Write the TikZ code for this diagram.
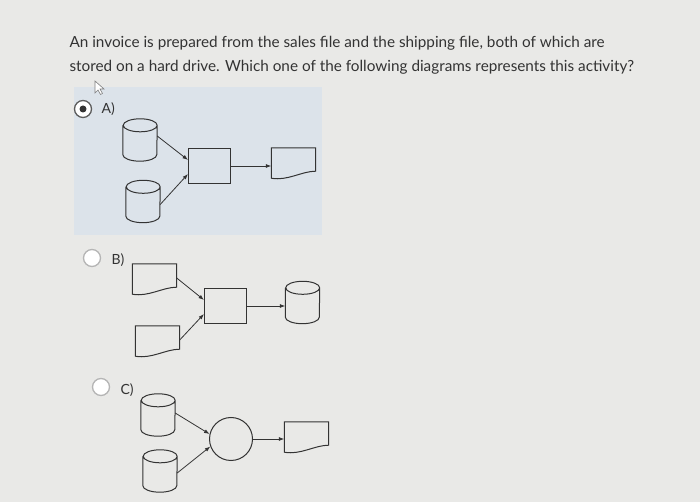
\documentclass[tikz,border=0pt]{standalone}
\usepackage{fontspec}
\setmainfont{Lato}
\usetikzlibrary{arrows.meta}
\definecolor{pagebg}{HTML}{E9E9E7}
\definecolor{pickbg}{HTML}{DCE3EA}
\definecolor{inkc}{HTML}{333333}
\definecolor{ringc}{HTML}{B5B5B5}

% outline of a disk file drawn round an empty node
\newcommand{\cyloutline}[1]{%
  \draw[shapeline] ([yshift=-6.5pt]#1.north west) -- ([yshift=6.5pt]#1.south west)
    arc[start angle=180,end angle=360,x radius=17pt,y radius=6.5pt]
    -- ([yshift=-6.5pt]#1.north east)
    arc[start angle=0,end angle=360,x radius=17pt,y radius=6.5pt];}
% outline of a document with a wavy bottom
\newcommand{\docoutline}[1]{%
  \draw[shapeline] (#1.north west) -- (#1.north east) -- ([yshift=7pt]#1.south east)
    .. controls ([xshift=-14pt,yshift=7pt]#1.south east) and ([xshift=16pt,yshift=-3pt]#1.south west) .. (#1.south west) -- cycle;}

\begin{document}
\begin{tikzpicture}
  [x=1pt,y=1pt,
   shapeline/.style={draw=inkc,line width=1pt},
   cylbox/.style={inner sep=0pt,minimum width=34pt,minimum height=42pt},
   docbox/.style={inner sep=0pt,minimum width=44pt,minimum height=30pt},
   procbox/.style={shapeline,inner sep=0pt,minimum width=42pt,minimum height=35pt},
   radiobtn/.style={circle,draw=ringc,line width=1.3pt,fill=white,minimum size=17pt,inner sep=0pt},
   flow/.style={draw=inkc,line width=0.8pt,-{Latex[length=5.5pt,width=4pt]}},
   every node/.append style={text=inkc}]
  \useasboundingbox (0,0) rectangle (700,502);
  \fill[pagebg] (0,0) rectangle (700,502);
  \fill[pickbg] (74,415) rectangle (322,267);

  % question
  \node[anchor=base west,font=\fontsize{15.3}{18}\selectfont] (qline1) at (66,454)
    {An invoice is prepared from the sales file and the shipping file, both of which are};
  \node[anchor=base west,font=\fontsize{15.3}{18}\selectfont] (qline2) at (66,430)
    {stored on a hard drive. Which one of the following diagrams represents this activity?};
  \draw[ringc!70!black,fill=white,line width=0.6pt] (95,421) -- ++(0,-12) -- ++(3,3)
    -- ++(2.5,-4.5) -- ++(2,1) -- ++(-2.5,4.5) -- ++(4,0) -- cycle;

  % option A
  \node[radiobtn,draw=inkc!80] (radioA) at (83,393) {};
  \node[circle,fill=inkc,minimum size=7pt,inner sep=0pt] (dotA) at (radioA) {};
  \node[anchor=west,font=\fontsize{14}{16}\selectfont] (labA) at (98,393) {A)};
  \node[cylbox] (cylA1) at (140,362) {};
  \node[cylbox] (cylA2) at (143,300.5) {};
  \node[procbox] (procA) at (209.5,336) {};
  \node[docbox] (docA) at (293.5,339) {};

  % option B
  \node[radiobtn] (radioB) at (92,244) {};
  \node[anchor=west,font=\fontsize{14}{16}\selectfont] (labB) at (108,242) {B)};
  \node[docbox] (docB1) at (154.5,223) {};
  \node[docbox] (docB2) at (157.5,161) {};
  \node[procbox] (procB) at (225.5,196) {};
  \node[cylbox] (cylB) at (302.5,199.5) {};

  % option C
  \node[radiobtn] (radioC) at (101,115) {};
  \node[anchor=west,font=\fontsize{14}{16}\selectfont] (labC) at (117,112) {C)};
  \node[cylbox] (cylC1) at (158,87) {};
  \node[cylbox] (cylC2) at (160,31) {};
  \node[shapeline,circle,minimum size=43pt,inner sep=0pt] (circC) at (231,63) {};
  \node[docbox] (docC) at (306.5,65) {};

  \foreach \n in {cylA1,cylA2,cylB,cylC1,cylC2}
    \cyloutline{\n};
  \foreach \n in {docA,docB1,docB2,docC}
    \docoutline{\n};

  \foreach \from/\fs/\to/\ts in {cylA1.east/4/procA.west/6,cylA2.east/-3/procA.west/-8,
      procA.east/0/docA.west/-3,docB1.east/1/procB.west/6,docB2.east/1/procB.west/-8,
      procB.east/0/cylB.west/-3.5,cylC1.east/2/circC.167/0,cylC2.east/-2/circC.200/0,
      circC.east/0/docC.west/-2}
    \draw[flow] ([yshift=\fs pt]\from) -- ([yshift=\ts pt]\to);
\end{tikzpicture}
\end{document}
